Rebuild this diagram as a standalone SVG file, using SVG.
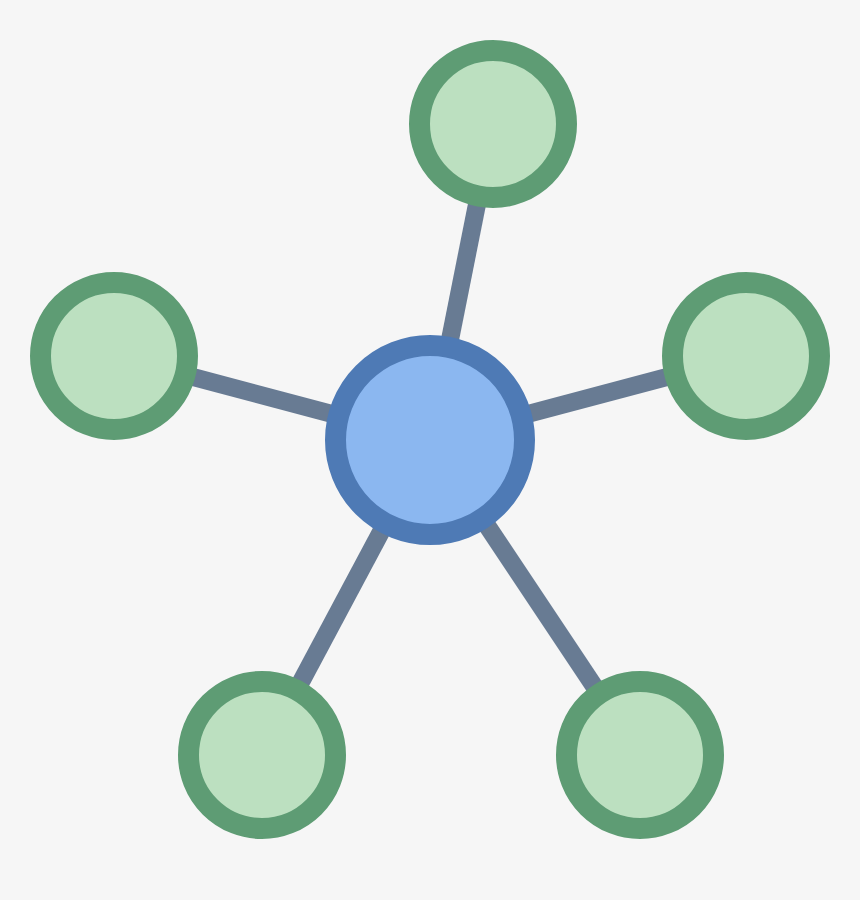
<svg xmlns="http://www.w3.org/2000/svg" width="860" height="900" viewBox="0 0 860 900">
<style>
.edge{stroke:#687B93;stroke-width:18;fill:none}
.leaf{fill:#BCE0C0;stroke:#5E9C74;stroke-width:21}
.hub{fill:#8BB7F0;stroke:#4E7AB5;stroke-width:21}
</style>
<rect width="860" height="900" fill="#F6F6F6"/>
<g id="connectors">
<line class="edge" x1="430" y1="440" x2="493" y2="124"/>
<line class="edge" x1="430" y1="440" x2="114" y2="356"/>
<line class="edge" x1="430" y1="440" x2="746" y2="356"/>
<line class="edge" x1="430" y1="440" x2="262" y2="755"/>
<line class="edge" x1="430" y1="440" x2="640" y2="755"/>
</g>
<g id="hub"><circle class="hub" cx="430" cy="440" r="94.5"/></g>
<g id="node-top"><circle class="leaf" cx="493" cy="124" r="73.5"/></g>
<g id="node-left"><circle class="leaf" cx="114" cy="356" r="73.5"/></g>
<g id="node-right"><circle class="leaf" cx="746" cy="356" r="73.5"/></g>
<g id="node-bottom-left"><circle class="leaf" cx="262" cy="755" r="73.5"/></g>
<g id="node-bottom-right"><circle class="leaf" cx="640" cy="755" r="73.5"/></g>
</svg>
